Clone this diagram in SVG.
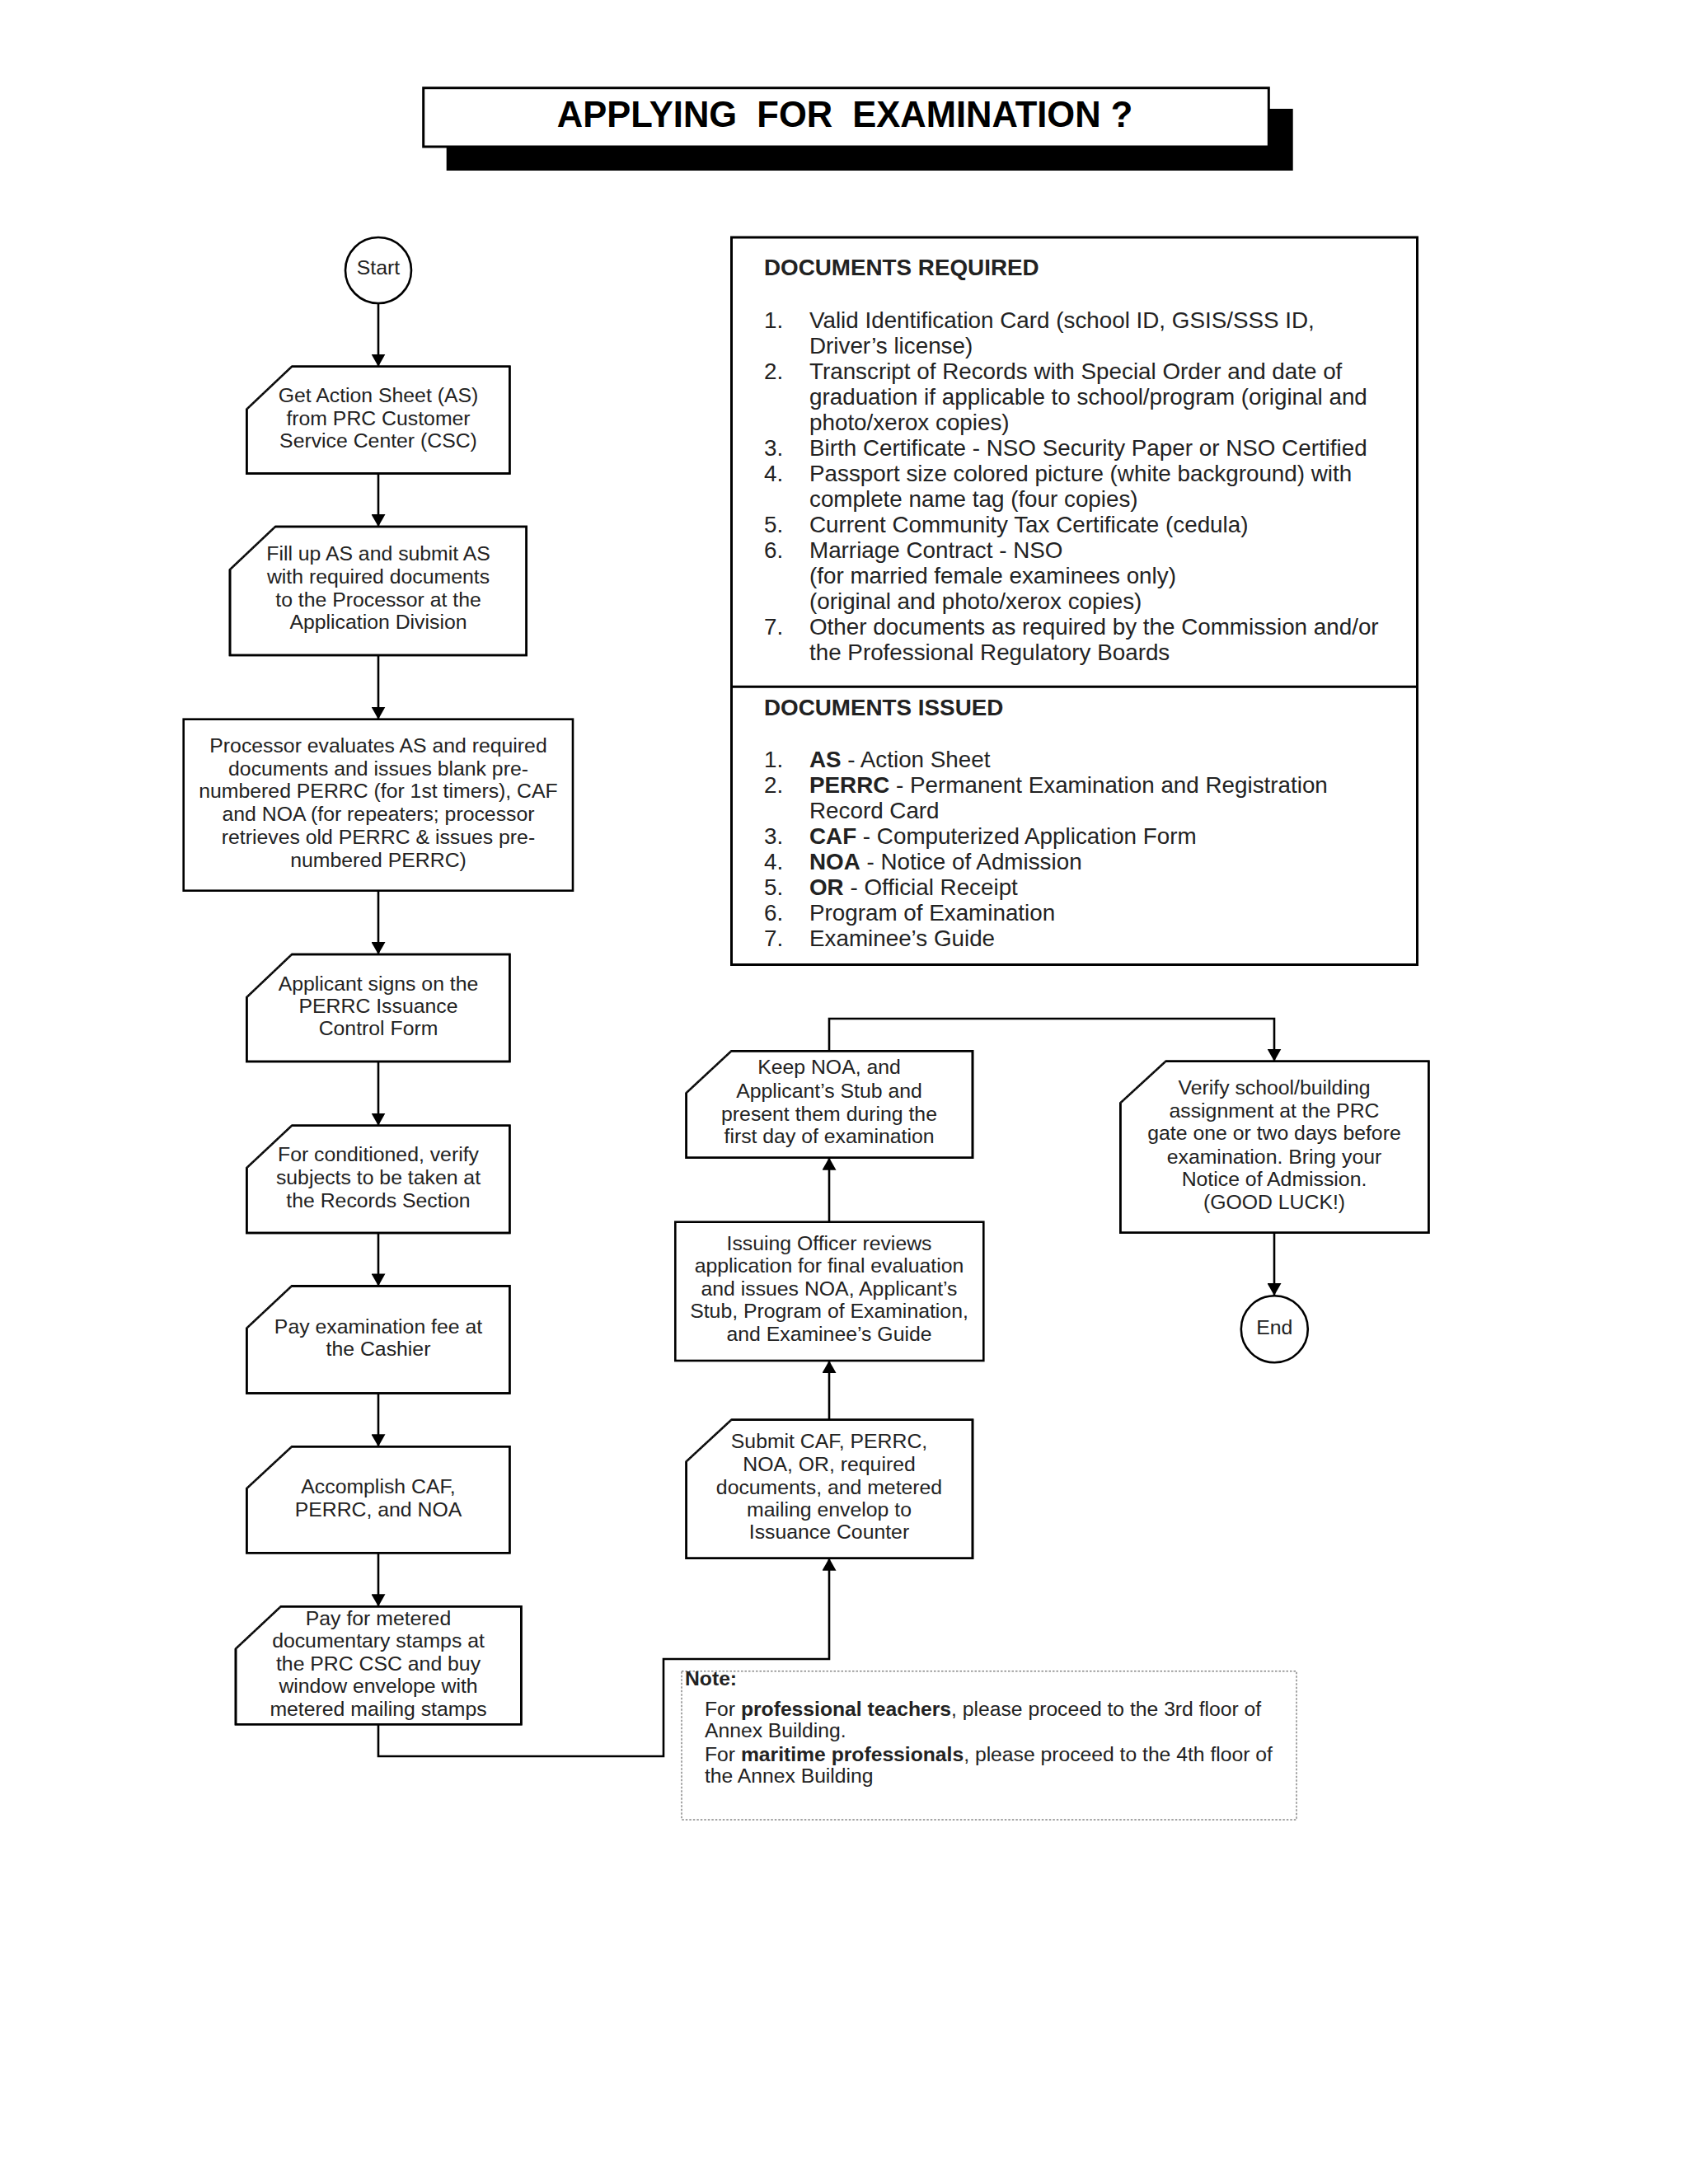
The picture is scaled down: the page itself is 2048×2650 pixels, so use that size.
<svg xmlns="http://www.w3.org/2000/svg" width="2048" height="2650" viewBox="0 0 2048 2650">
<defs>
<marker id="ah" markerUnits="userSpaceOnUse" markerWidth="16" markerHeight="17" refX="15" refY="8.5" orient="auto">
<path d="M0,0 L15,8.5 L0,17 z" fill="#000"/>
</marker>
<style>
text{font-family:"Liberation Sans",Arial,sans-serif;fill:#222}
.n{font-size:24.8px;text-anchor:middle}
.d{font-size:27.8px}
.db{font-size:27.8px;font-weight:bold}
.nt{font-size:24.7px}
.box{fill:#fff;stroke:#000;stroke-width:2.6}
.edge{fill:none;stroke:#000;stroke-width:2.6}
.cut{fill:none;stroke:#222;stroke-width:1.6;stroke-dasharray:2.5 1.5}
.cn{fill:none;stroke:#000;stroke-width:2.6;marker-end:url(#ah)}
</style>
</defs>
<rect width="2048" height="2650" fill="#fff"/>

<g id="title">
<rect x="541.7" y="132" width="1027" height="75" fill="#000"/>
<rect x="513.7" y="106.7" width="1025.6" height="71.3" fill="#fff" stroke="#000" stroke-width="3"/>
<text x="1025" y="154" style="font-size:43.5px;font-weight:bold;text-anchor:middle;white-space:pre;fill:#000">APPLYING  FOR  EXAMINATION ?</text>
</g>

<g id="documents">
<rect x="887.5" y="288" width="832" height="882.5" fill="#fff" stroke="#000" stroke-width="3"/>
<line x1="887.5" y1="833.3" x2="1719.5" y2="833.3" stroke="#000" stroke-width="3"/>
<text class="db" x="927" y="334">DOCUMENTS REQUIRED</text>
<text class="d" x="927" y="397.5">1.</text><text class="d" x="982" y="397.5">Valid Identification Card (school ID, GSIS/SSS ID,</text>
<text class="d" x="982" y="428.5">Driver’s license)</text>
<text class="d" x="927" y="459.5">2.</text><text class="d" x="982" y="459.5">Transcript of Records with Special Order and date of</text>
<text class="d" x="982" y="490.5">graduation if applicable to school/program (original and</text>
<text class="d" x="982" y="521.5">photo/xerox copies)</text>
<text class="d" x="927" y="552.5">3.</text><text class="d" x="982" y="552.5">Birth Certificate - NSO Security Paper or NSO Certified</text>
<text class="d" x="927" y="583.5">4.</text><text class="d" x="982" y="583.5">Passport size colored picture (white background) with</text>
<text class="d" x="982" y="614.5">complete name tag (four copies)</text>
<text class="d" x="927" y="645.5">5.</text><text class="d" x="982" y="645.5">Current Community Tax Certificate (cedula)</text>
<text class="d" x="927" y="676.5">6.</text><text class="d" x="982" y="676.5">Marriage Contract - NSO</text>
<text class="d" x="982" y="707.5">(for married female examinees only)</text>
<text class="d" x="982" y="738.5">(original and photo/xerox copies)</text>
<text class="d" x="927" y="769.5">7.</text><text class="d" x="982" y="769.5">Other documents as required by the Commission and/or</text>
<text class="d" x="982" y="800.5">the Professional Regulatory Boards</text>

<text class="db" x="927" y="868.3">DOCUMENTS ISSUED</text>
<text class="d" x="927" y="930.7">1.</text><text class="d" x="982" y="930.7"><tspan font-weight="bold">AS</tspan> - Action Sheet</text>
<text class="d" x="927" y="961.7">2.</text><text class="d" x="982" y="961.7"><tspan font-weight="bold">PERRC</tspan> - Permanent Examination and Registration</text>
<text class="d" x="982" y="992.7">Record Card</text>
<text class="d" x="927" y="1024">3.</text><text class="d" x="982" y="1024"><tspan font-weight="bold">CAF</tspan> - Computerized Application Form</text>
<text class="d" x="927" y="1055">4.</text><text class="d" x="982" y="1055"><tspan font-weight="bold">NOA</tspan> - Notice of Admission</text>
<text class="d" x="927" y="1086">5.</text><text class="d" x="982" y="1086"><tspan font-weight="bold">OR</tspan> - Official Receipt</text>
<text class="d" x="927" y="1117">6.</text><text class="d" x="982" y="1117">Program of Examination</text>
<text class="d" x="927" y="1148">7.</text><text class="d" x="982" y="1148">Examinee’s Guide</text>
</g>

<g id="connectors">
<line class="cn" x1="459" y1="368" x2="459" y2="444.7"/>
<line class="cn" x1="459" y1="574.5" x2="459" y2="639"/>
<line class="cn" x1="459" y1="795" x2="459" y2="872.7"/>
<line class="cn" x1="459" y1="1080.7" x2="459" y2="1158"/>
<line class="cn" x1="459" y1="1288" x2="459" y2="1365.7"/>
<line class="cn" x1="459" y1="1496" x2="459" y2="1560.4"/>
<line class="cn" x1="459" y1="1690.5" x2="459" y2="1755.3"/>
<line class="cn" x1="459" y1="1884.3" x2="459" y2="1949.3"/>
<path class="cn" d="M459,2092.3 V2131 H805 V2013 H1006 V1890.7"/>
<line class="cn" x1="1006" y1="1722.7" x2="1006" y2="1651"/>
<line class="cn" x1="1006" y1="1482.7" x2="1006" y2="1404.7"/>
<path class="cn" d="M1006,1275.3 V1236 H1546 V1287.7"/>
<line class="cn" x1="1546" y1="1495.7" x2="1546" y2="1572"/>
</g>

<g id="start">
<circle cx="459" cy="328" r="40" fill="#fff" stroke="#000" stroke-width="2.6"/>
<text class="n" x="459" y="333">Start</text>
</g>

<g id="n1">
<path class="box" d="M354,444.7 H618.3 V574.5 H299.3 V496.5 Z" stroke="none"/>
<path class="edge" d="M354,444.7 H618.3 V574.5 H299.3 V496.5"/>
<line class="cut" x1="299.3" y1="496.5" x2="354" y2="444.7"/>
<text class="n" x="459" y="488">Get Action Sheet (AS)</text>
<text class="n" x="459" y="516">from PRC Customer</text>
<text class="n" x="459" y="543">Service Center (CSC)</text>
</g>

<g id="n2">
<path class="box" d="M334,639 H638.7 V795 H279 V691 Z" stroke="none"/>
<path class="edge" d="M334,639 H638.7 V795 H279 V691"/>
<line class="cut" x1="279" y1="691" x2="334" y2="639"/>
<text class="n" x="459" y="680">Fill up AS and submit AS</text>
<text class="n" x="459" y="708">with required documents</text>
<text class="n" x="459" y="736">to the Processor at the</text>
<text class="n" x="459" y="763">Application Division</text>
</g>

<g id="n3">
<rect class="box" x="222.7" y="872.7" width="472.3" height="208"/>
<text class="n" x="459" y="913">Processor evaluates AS and required</text>
<text class="n" x="459" y="941">documents and issues blank pre-</text>
<text class="n" x="459" y="968">numbered PERRC (for 1st timers), CAF</text>
<text class="n" x="459" y="996">and NOA (for repeaters; processor</text>
<text class="n" x="459" y="1024">retrieves old PERRC &amp; issues pre-</text>
<text class="n" x="459" y="1052">numbered PERRC)</text>
</g>

<g id="n4">
<path class="box" d="M354,1158 H618.3 V1288 H299.3 V1210 Z" stroke="none"/>
<path class="edge" d="M354,1158 H618.3 V1288 H299.3 V1210"/>
<line class="cut" x1="299.3" y1="1210" x2="354" y2="1158"/>
<text class="n" x="459" y="1202">Applicant signs on the</text>
<text class="n" x="459" y="1229">PERRC Issuance</text>
<text class="n" x="459" y="1256">Control Form</text>
</g>

<g id="n5">
<path class="box" d="M354,1365.7 H618.3 V1496 H299.3 V1417 Z" stroke="none"/>
<path class="edge" d="M354,1365.7 H618.3 V1496 H299.3 V1417"/>
<line class="cut" x1="299.3" y1="1417" x2="354" y2="1365.7"/>
<text class="n" x="459" y="1409">For conditioned, verify</text>
<text class="n" x="459" y="1437">subjects to be taken at</text>
<text class="n" x="459" y="1465">the Records Section</text>
</g>

<g id="n6">
<path class="box" d="M354,1560.4 H618.3 V1690.5 H299.3 V1611.5 Z" stroke="none"/>
<path class="edge" d="M354,1560.4 H618.3 V1690.5 H299.3 V1611.5"/>
<line class="cut" x1="299.3" y1="1611.5" x2="354" y2="1560.4"/>
<text class="n" x="459" y="1617.5">Pay examination fee at</text>
<text class="n" x="459" y="1645">the Cashier</text>
</g>

<g id="n7">
<path class="box" d="M354,1755.3 H618.3 V1884.3 H299.3 V1806 Z" stroke="none"/>
<path class="edge" d="M354,1755.3 H618.3 V1884.3 H299.3 V1806"/>
<line class="cut" x1="299.3" y1="1806" x2="354" y2="1755.3"/>
<text class="n" x="459" y="1811.7">Accomplish CAF,</text>
<text class="n" x="459" y="1840">PERRC, and NOA</text>
</g>

<g id="n8">
<path class="box" d="M340.7,1949.3 H632.3 V2092.3 H286 V2000.5 Z" stroke="none"/>
<path class="edge" d="M340.7,1949.3 H632.3 V2092.3 H286 V2000.5"/>
<line class="cut" x1="286" y1="2000.5" x2="340.7" y2="1949.3"/>
<text class="n" x="459" y="1971.7">Pay for metered</text>
<text class="n" x="459" y="1999.3">documentary stamps at</text>
<text class="n" x="459" y="2026.5">the PRC CSC and buy</text>
<text class="n" x="459" y="2054">window envelope with</text>
<text class="n" x="459" y="2081.7">metered mailing stamps</text>
</g>

<g id="n9">
<path class="box" d="M887.3,1722.7 H1180 V1890.7 H832.7 V1773.3 Z" stroke="none"/>
<path class="edge" d="M887.3,1722.7 H1180 V1890.7 H832.7 V1773.3"/>
<line class="cut" x1="832.7" y1="1773.3" x2="887.3" y2="1722.7"/>
<text class="n" x="1006" y="1757">Submit CAF, PERRC,</text>
<text class="n" x="1006" y="1785">NOA, OR, required</text>
<text class="n" x="1006" y="1812.7">documents, and metered</text>
<text class="n" x="1006" y="1840">mailing envelop to</text>
<text class="n" x="1006" y="1867.3">Issuance Counter</text>
</g>

<g id="n10">
<rect class="box" x="819.3" y="1482.7" width="374" height="168.3"/>
<text class="n" x="1006" y="1516.7">Issuing Officer reviews</text>
<text class="n" x="1006" y="1544">application for final evaluation</text>
<text class="n" x="1006" y="1571.7">and issues NOA, Applicant’s</text>
<text class="n" x="1006" y="1599.3">Stub, Program of Examination,</text>
<text class="n" x="1006" y="1626.7">and Examinee’s Guide</text>
</g>

<g id="n11">
<path class="box" d="M887.3,1275.3 H1180 V1404.7 H832.7 V1326 Z" stroke="none"/>
<path class="edge" d="M887.3,1275.3 H1180 V1404.7 H832.7 V1326"/>
<line class="cut" x1="832.7" y1="1326" x2="887.3" y2="1275.3"/>
<text class="n" x="1006" y="1303.3">Keep NOA, and</text>
<text class="n" x="1006" y="1331.7">Applicant’s Stub and</text>
<text class="n" x="1006" y="1360">present them during the</text>
<text class="n" x="1006" y="1387.3">first day of examination</text>
</g>

<g id="n12">
<path class="box" d="M1414.3,1287.7 H1733.3 V1495.7 H1359.3 V1338.3 Z" stroke="none"/>
<path class="edge" d="M1414.3,1287.7 H1733.3 V1495.7 H1359.3 V1338.3"/>
<line class="cut" x1="1359.3" y1="1338.3" x2="1414.3" y2="1287.7"/>
<text class="n" x="1546" y="1328.3">Verify school/building</text>
<text class="n" x="1546" y="1356">assignment at the PRC</text>
<text class="n" x="1546" y="1383.3">gate one or two days before</text>
<text class="n" x="1546" y="1411.7">examination. Bring your</text>
<text class="n" x="1546" y="1439.3">Notice of Admission.</text>
<text class="n" x="1546" y="1466.7">(GOOD LUCK!)</text>
</g>

<g id="end">
<circle cx="1546.3" cy="1612.7" r="40.5" fill="#fff" stroke="#000" stroke-width="2.6"/>
<text class="n" x="1546.3" y="1619">End</text>
</g>

<g id="note">
<rect x="827" y="2027.7" width="746" height="180.3" fill="#fff" stroke="#888" stroke-width="1.5" stroke-dasharray="2.5 2"/>
<text class="nt" x="831" y="2045" font-weight="bold">Note:</text>
<text class="nt" x="855" y="2081.7">For <tspan font-weight="bold">professional teachers</tspan>, please proceed to the 3rd floor of</text>
<text class="nt" x="855" y="2108.3">Annex Building.</text>
<text class="nt" x="855" y="2136.7">For <tspan font-weight="bold">maritime professionals</tspan>, please proceed to the 4th floor of</text>
<text class="nt" x="855" y="2163.3">the Annex Building</text>
</g>
</svg>
